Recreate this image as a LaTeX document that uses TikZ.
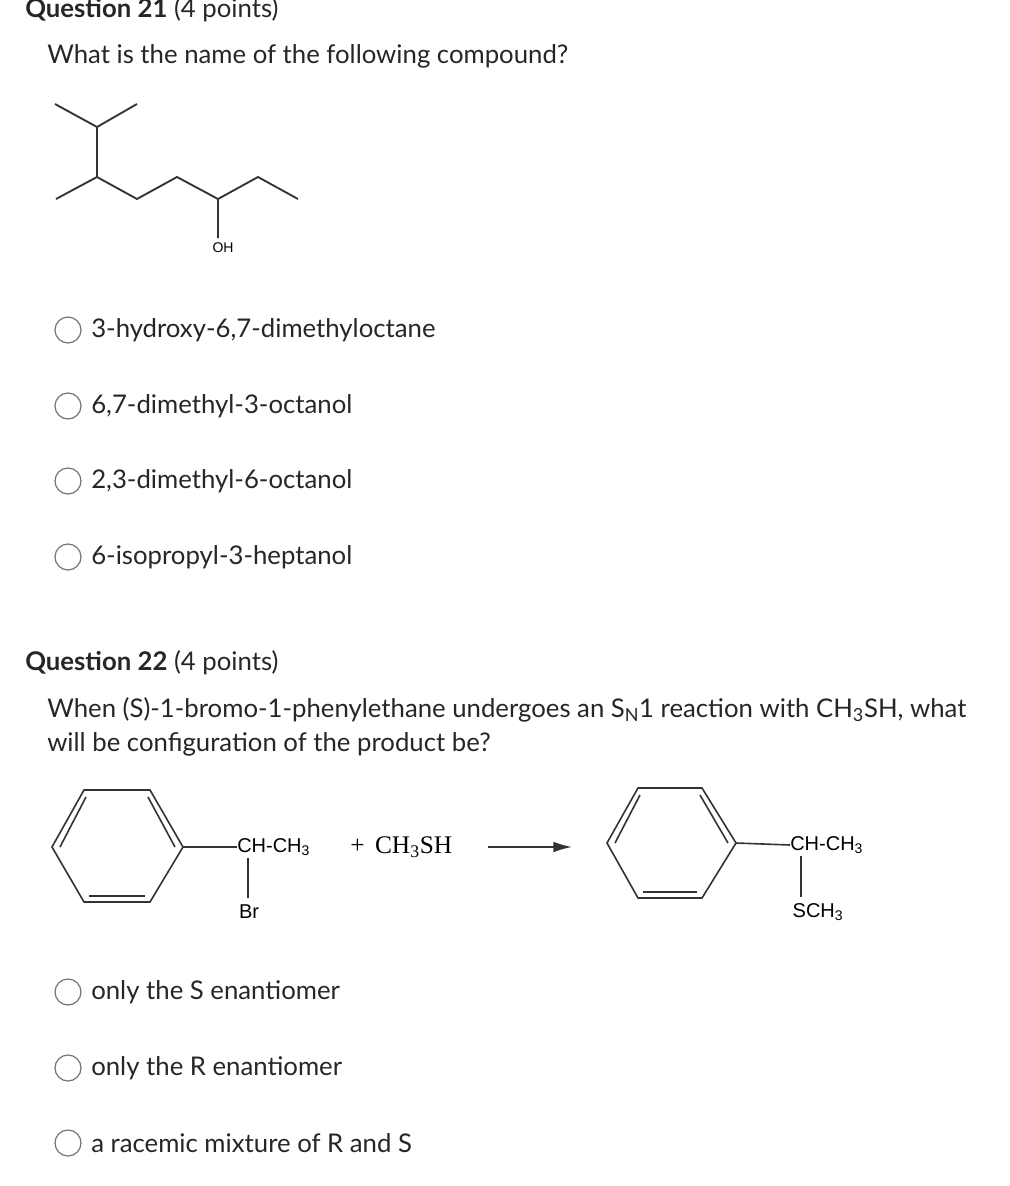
\documentclass[tikz,border=0pt]{standalone}
\usepackage{fontspec}
\setmainfont{Lato}
\newfontfamily\chem{Liberation Sans}
\newfontfamily\chemserif{Liberation Serif}
\usetikzlibrary{arrows.meta,calc}
\begin{document}
\begin{tikzpicture}[x=0.75pt,y=-0.75pt,
  txt/.style={anchor=west,inner sep=0,font=\fontsize{19.3pt}{23pt}\selectfont,text=black!85},
  hdr/.style={anchor=west,inner sep=0,font=\fontsize{19.3pt}{23pt}\selectfont,text=black!85},
  radio/.style={draw=black!55,circle,minimum size=19.5pt,inner sep=0,line width=0.9pt},
  bond/.style={line width=1.2pt,black!80},
  lbl/.style={inner sep=0,font=\chem\fontsize{15pt}{17pt}\selectfont},
  slbl/.style={inner sep=0,font=\chem\fontsize{10.5pt}{12pt}\selectfont}]
\useasboundingbox (0,0) rectangle (1010,1186);
% Question 21
\node[hdr] (h21) at (25,10) {\textbf{Question 21} (4 points)};
\node[txt] (q21) at (47,56) {What is the name of the following compound?};
% skeleton
\coordinate (m1) at (55,104); \coordinate (c8) at (97,127); \coordinate (m2) at (137,104);
\coordinate (c7) at (97,177); \coordinate (m3) at (56,199); \coordinate (c6) at (137,199);
\coordinate (c5) at (177,177); \coordinate (c4) at (218,199); \coordinate (c3) at (258,177);
\coordinate (c2) at (298,199);
\node[slbl] (oh) at (223,248) {OH};
\draw[bond,line width=1.4pt] (m1)--(c8)--(m2) (c8)--(c7)--(m3) (c7)--(c6)--(c5)--(c4)--(c3)--(c2) (c4)--(218,238);
% options 21
\node[radio] (r1) at (68,330) {};
\node[radio] (r2) at (68,406) {};
\node[radio] (r3) at (68,481) {};
\node[radio] (r4) at (68,557) {};
\node[txt] (o1) at (91,330) {3-hydroxy-6,7-dimethyloctane};
\node[txt] (o2) at (91,406) {6,7-dimethyl-3-octanol};
\node[txt] (o3) at (91,481) {2,3-dimethyl-6-octanol};
\node[txt] (o4) at (91,557) {6-isopropyl-3-heptanol};
% Question 22
\node[hdr] (h22) at (25,663) {\textbf{Question 22} (4 points)};
\node[txt] (q22a) at (47,710) {When (S)-1-bromo-1-phenylethane undergoes an S\textsubscript{N}1 reaction with CH\textsubscript{3}SH, what};
\node[txt] (q22b) at (47,744) {will be configuration of the product be?};
% left benzene
\coordinate (a1) at (52,847); \coordinate (a2) at (84,790); \coordinate (a3) at (150,790);
\coordinate (a4) at (183,847); \coordinate (a5) at (150,902); \coordinate (a6) at (84,902);
\draw[bond] (a1)--(a2)--(a3)--(a4)--(a5)--(a6)--cycle;
\draw[bond] ($(a3)+(-2,7)$)--($(a4)+(-8,0)$);
\draw[bond] ($(a5)+(-5,-6)$)--($(a6)+(5,-6)$);
\draw[bond] ($(a1)+(8,0)$)--($(a2)+(2,7)$);
\node[lbl,anchor=west] (chl) at (237,847) {CH-CH\textsubscript{3}};
\draw[bond] (a4)--(chl.west);
\node[lbl] (br) at (249,912) {Br};
\draw[bond] (248,858)--(248,898);
\node[lbl,anchor=west,font=\chemserif\fontsize{19pt}{21pt}\selectfont] (reag) at (350,847) {+ \,CH\textsubscript{3}SH};
\coordinate (arS) at (488,847); \coordinate (arE) at (572,847);
\draw[bond,-{Latex[length=14pt,width=8pt]}] (arS)--(arE);
% right benzene
\coordinate (b1) at (607,843); \coordinate (b2) at (638,788); \coordinate (b3) at (702,788);
\coordinate (b4) at (736,843); \coordinate (b5) at (702,898); \coordinate (b6) at (638,898);
\draw[bond] (b1)--(b2)--(b3)--(b4)--(b5)--(b6)--cycle;
\draw[bond] ($(b3)+(-2,7)$)--($(b4)+(-8,0)$);
\draw[bond] ($(b5)+(-5,-6)$)--($(b6)+(5,-6)$);
\draw[bond] ($(b1)+(8,0)$)--($(b2)+(2,7)$);
\node[lbl,anchor=west] (chr) at (790,845) {CH-CH\textsubscript{3}};
\draw[bond] (b4)--(chr.west);
\node[lbl] (sch) at (818,912) {SCH\textsubscript{3}};
\draw[bond] (801,856)--(801,897);
% options 22
\node[radio] (s1) at (68,992) {};
\node[radio] (s2) at (68,1068) {};
\node[radio] (s3) at (68,1143) {};
\node[txt] (p1) at (91,992) {only the S enantiomer};
\node[txt] (p2) at (91,1068) {only the R enantiomer};
\node[txt] (p3) at (91,1143) {a racemic mixture of R and S};
\end{tikzpicture}
\end{document}
